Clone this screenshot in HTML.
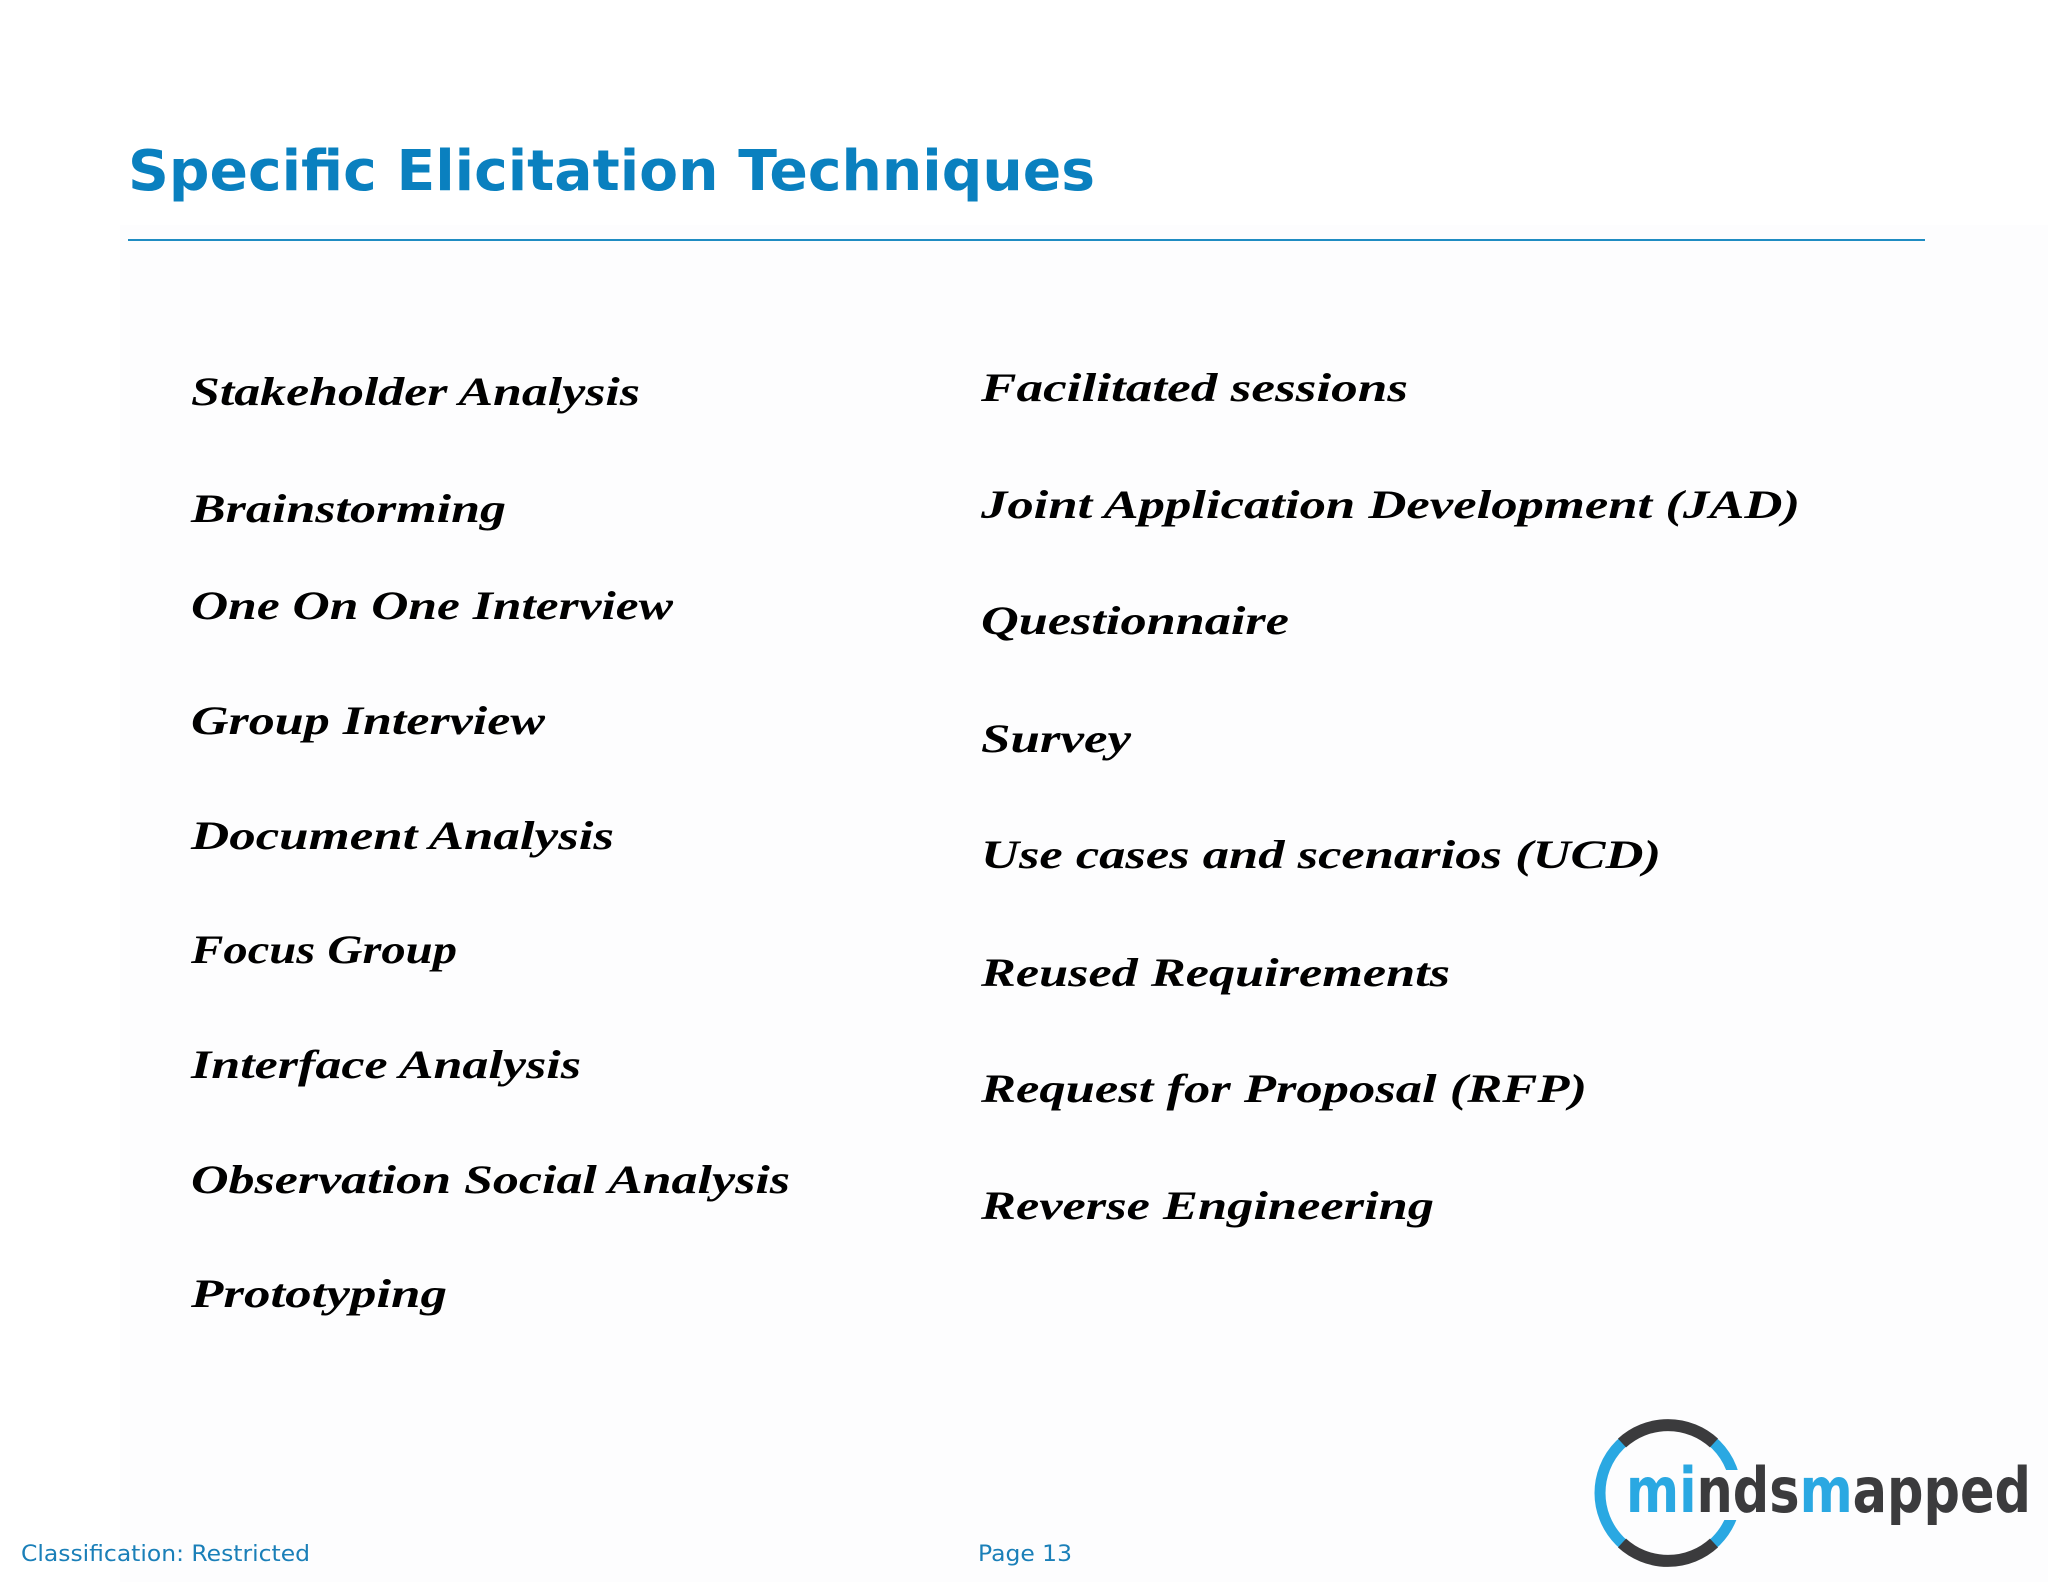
<!DOCTYPE html>
<html><head><meta charset="utf-8"><style>
html,body{margin:0;padding:0;background:#fff}
svg{display:block}
.it{font-family:"Liberation Serif",serif;font-style:italic;font-weight:bold;font-size:40px;fill:#000}
</style></head><body>
<svg width="2048" height="1582" viewBox="0 0 2048 1582">
<rect x="0" y="0" width="2048" height="1582" fill="#ffffff"/>
<rect x="120" y="225" width="1928" height="1357" fill="#fdfdfe"/>
<text x="128" y="190" textLength="967" lengthAdjust="spacingAndGlyphs" style="font-family:'DejaVu Sans','Liberation Sans',sans-serif;font-weight:bold;font-size:56px;fill:#0a80bf">Specific Elicitation Techniques</text>
<line x1="128" y1="240" x2="1925" y2="240" stroke="#1f8cc2" stroke-width="2"/>
<g>
<text class="it" x="191" y="405" textLength="449" lengthAdjust="spacingAndGlyphs">Stakeholder Analysis</text>
<text class="it" x="191" y="522" textLength="315" lengthAdjust="spacingAndGlyphs">Brainstorming</text>
<text class="it" x="191" y="619" textLength="482" lengthAdjust="spacingAndGlyphs">One On One Interview</text>
<text class="it" x="191" y="734" textLength="354" lengthAdjust="spacingAndGlyphs">Group Interview</text>
<text class="it" x="191" y="849" textLength="423" lengthAdjust="spacingAndGlyphs">Document Analysis</text>
<text class="it" x="191" y="963" textLength="266" lengthAdjust="spacingAndGlyphs">Focus Group</text>
<text class="it" x="191" y="1078" textLength="390" lengthAdjust="spacingAndGlyphs">Interface Analysis</text>
<text class="it" x="191" y="1193" textLength="599" lengthAdjust="spacingAndGlyphs">Observation Social Analysis</text>
<text class="it" x="191" y="1307" textLength="256" lengthAdjust="spacingAndGlyphs">Prototyping</text>
</g>
<g>
<text class="it" x="981" y="401" textLength="427" lengthAdjust="spacingAndGlyphs">Facilitated sessions</text>
<text class="it" x="981" y="518" textLength="819" lengthAdjust="spacingAndGlyphs">Joint Application Development (JAD)</text>
<text class="it" x="981" y="634" textLength="308" lengthAdjust="spacingAndGlyphs">Questionnaire</text>
<text class="it" x="981" y="752" textLength="150" lengthAdjust="spacingAndGlyphs">Survey</text>
<text class="it" x="981" y="868" textLength="680" lengthAdjust="spacingAndGlyphs">Use cases and scenarios (UCD)</text>
<text class="it" x="981" y="986" textLength="469" lengthAdjust="spacingAndGlyphs">Reused Requirements</text>
<text class="it" x="981" y="1102" textLength="606" lengthAdjust="spacingAndGlyphs">Request for Proposal (RFP)</text>
<text class="it" x="981" y="1219" textLength="453" lengthAdjust="spacingAndGlyphs">Reverse Engineering</text>
</g>
<text x="21" y="1561" textLength="289" lengthAdjust="spacingAndGlyphs" style="font-family:'DejaVu Sans','Liberation Sans',sans-serif;font-size:22px;fill:#1a7fb8">Classification: Restricted</text>
<text x="978" y="1561" textLength="94" lengthAdjust="spacingAndGlyphs" style="font-family:'DejaVu Sans','Liberation Sans',sans-serif;font-size:22px;fill:#1a7fb8">Page 13</text>
<g>
<circle cx="1668" cy="1493" r="68" fill="none" stroke="#2aa8e2" stroke-width="11"/>
<path d="M1622 1443 A68 68 0 0 1 1714 1443" fill="none" stroke="#3b3b3d" stroke-width="12"/>
<path d="M1622 1543 A68 68 0 0 0 1714 1543" fill="none" stroke="#3b3b3d" stroke-width="12"/>
<rect x="1700" y="1470" width="40" height="50" fill="#fdfdfe"/>
<text x="1626" y="1512" textLength="405" lengthAdjust="spacingAndGlyphs" style="font-family:'DejaVu Sans','Liberation Sans',sans-serif;font-weight:bold;font-size:62px"><tspan fill="#2aa8e2">mi</tspan><tspan fill="#3b3b3d">nds</tspan><tspan fill="#2aa8e2">m</tspan><tspan fill="#3b3b3d">apped</tspan></text>
</g>
</svg>
</body></html>
